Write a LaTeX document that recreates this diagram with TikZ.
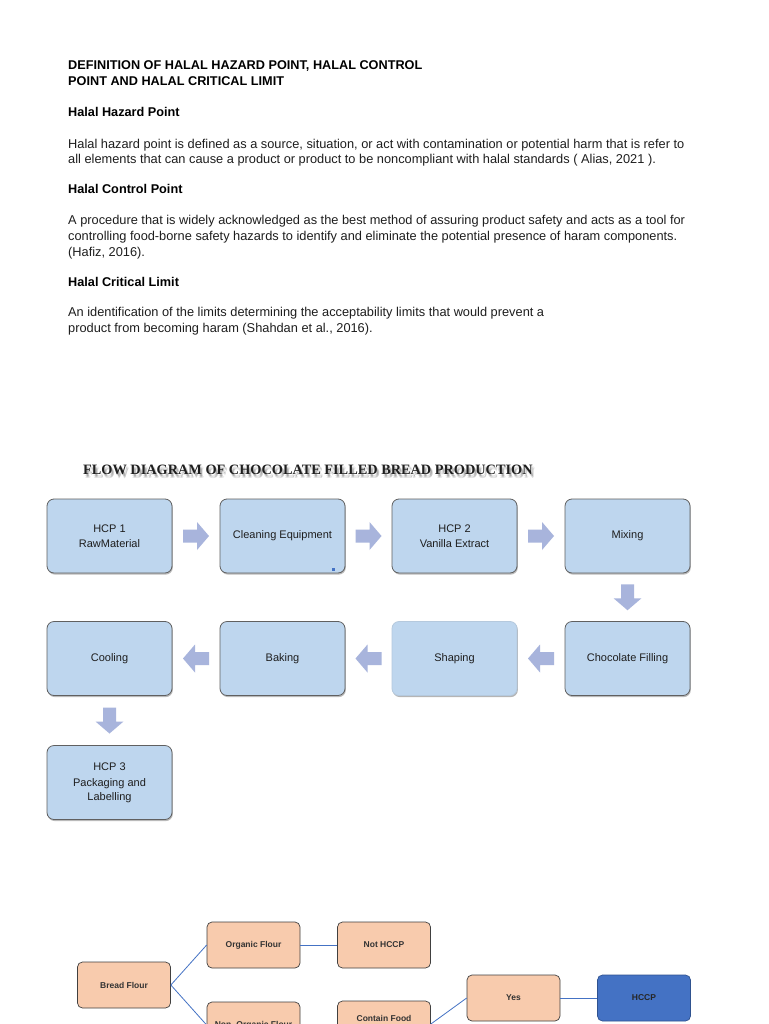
\documentclass[tikz,border=0pt]{standalone}
\usepackage{fontspec}
\setmainfont{Liberation Sans}
\newfontfamily\titlefont{Liberation Serif}
\usetikzlibrary{shadows,calc}
\definecolor{fbox}{RGB}{190,214,238}
\definecolor{arrowc}{RGB}{168,180,220}
\definecolor{peach}{RGB}{248,203,173}
\definecolor{hblue}{RGB}{68,114,196}
\definecolor{hborder}{RGB}{47,82,143}
\definecolor{txt}{RGB}{30,30,30}
\tikzset{
  flowbox/.style={draw=gray!75!black, line width=0.8pt, fill=fbox, rounded corners=7pt,
    minimum width=125pt, minimum height=74pt, align=center, text=txt,
    font=\fontsize{11}{15.5}\selectfont,
    drop shadow={shadow xshift=0.8pt, shadow yshift=-1.6pt, opacity=0.45, fill=black!60}},
  softbox/.style={flowbox, draw=fbox!85!gray,
    drop shadow={shadow xshift=0.8pt, shadow yshift=-1.2pt, opacity=0.2, fill=black!40}},
  treebox/.style={draw=black!75, line width=0.7pt, fill=peach, rounded corners=5pt,
    minimum width=93pt, minimum height=46pt, align=center, text=black!80,
    font=\bfseries\fontsize{8.5}{11}\selectfont},
  tline/.style={draw=hblue, line width=0.8pt},
  bodytext/.style={anchor=base west, inner sep=0pt, align=left, text=txt,
    font=\fontsize{12.8}{15.7}\selectfont},
  headtext/.style={anchor=base west, inner sep=0pt, align=left, text=black,
    font=\bfseries\fontsize{12.7}{16}\selectfont},
  titletext/.style={anchor=base west, inner sep=0pt, font=\titlefont\bfseries\fontsize{14.3}{16}\selectfont},
  barrow/.pic={\fill[arrowc] (-13,-6.5) -- (1,-6.5) -- (1,-14) -- (13,0) -- (1,14) -- (1,6.5) -- (-13,6.5) -- cycle;}
}
\begin{document}
\begin{tikzpicture}[x=1pt,y=-1pt]
\useasboundingbox (0,0) rectangle (768,1024);
\clip (0,0) rectangle (768,1024);
\fill[white] (0,0) rectangle (768,1024);

% ---- definitions text (anchor = baseline of the last line) ----
\node[headtext] (h0) at (68,86) {DEFINITION OF HALAL HAZARD POINT, HALAL CONTROL\\POINT AND HALAL CRITICAL LIMIT};
\node[headtext] (h1) at (68,116.5) {Halal Hazard Point};
\node[bodytext] (p1) at (68,164) {Halal hazard point is defined as a source, situation, or act with contamination or potential harm that is refer to\\all elements that can cause a product or product to be noncompliant with halal standards ( Alias, 2021 ).};
\node[headtext] (h2) at (68,193.5) {Halal Control Point};
\node[bodytext] (p2) at (68,256) {A procedure that is widely acknowledged as the best method of assuring product safety and acts as a tool for\\controlling food-borne safety hazards to identify and eliminate the potential presence of haram components.\\(Hafiz, 2016).};
\node[headtext] (h3) at (68,286.5) {Halal Critical Limit};
\node[bodytext] (p3) at (68,332.5) {An identification of the limits determining the acceptability limits that would prevent a\\product from becoming haram (Shahdan et al., 2016).};

% ---- flow diagram title with soft shadow ----
\foreach \dx/\dy in {1.5/2.5, 2.5/3.5, 2/4.5}{
  \node[titletext, text=black, opacity=0.12] at (83+\dx,474+\dy) {FLOW DIAGRAM OF CHOCOLATE FILLED BREAD PRODUCTION};
}
\node[titletext, text=black!88] (title) at (83,474) {FLOW DIAGRAM OF CHOCOLATE FILLED BREAD PRODUCTION};

% ---- flow boxes ----
\node[flowbox] (b1) at (109.5,536) {HCP 1\\RawMaterial};
\node[flowbox] (b2) at (282.5,536) {Cleaning Equipment};
\node[flowbox] (b3) at (454.5,536) {HCP 2\\Vanilla Extract};
\node[flowbox] (b4) at (627.5,536) {Mixing};
\node[flowbox] (b5) at (627.5,658.5) {Chocolate Filling};
\node[softbox] (b6) at (454.5,658.5) {Shaping};
\node[flowbox] (b7) at (282.5,658.5) {Baking};
\node[flowbox] (b8) at (109.5,658.5) {Cooling};
\node[flowbox, font=\fontsize{11}{13.5}\selectfont] (b9) at (109.5,782.5) {HCP 3\\[3pt]Packaging and\\Labelling};
\fill[hblue] (331.5,567.5) rectangle (334.5,570.5);

% ---- block arrows ----
\path ($(b1.east)!0.5!(b2.west)$) pic {barrow};
\path ($(b2.east)!0.5!(b3.west)$) pic {barrow};
\path ($(b3.east)!0.5!(b4.west)$) pic {barrow};
\path ($(b4.south)!0.5!(b5.north)$) pic[rotate=-90] {barrow};
\path ($(b5.west)!0.5!(b6.east)$) pic[rotate=180] {barrow};
\path ($(b6.west)!0.5!(b7.east)$) pic[rotate=180] {barrow};
\path ($(b7.west)!0.5!(b8.east)$) pic[rotate=180] {barrow};
\path ($(b8.south)!0.5!(b9.north)$) pic[rotate=-90] {barrow};

% ---- decision tree ----
\node[treebox] (bf) at (124,985) {Bread Flour};
\node[treebox] (of) at (253.5,945) {Organic Flour};
\node[treebox] (nh) at (384,945) {Not HCCP};
\node[treebox] (nof) at (253.5,1025) {Non- Organic Flour};
\node[treebox, label={[yshift=6pt, font=\bfseries\fontsize{8.5}{11}\selectfont, text=black!80]center:Contain Food}] (cf) at (384,1024) {};
\node[treebox] (yes) at (513.5,998) {Yes};
\node[treebox, fill=hblue, draw=hborder, text=black!85] (hc) at (644,998) {HCCP};

\draw[tline] (bf.east) -- (of.west);
\draw[tline] (bf.east) -- (nof.west);
\draw[tline] (of.east) -- (nh.west);
\draw[tline] (cf.east) -- (yes.west);
\draw[tline] (yes.east) -- (hc.west);
\end{tikzpicture}
\end{document}
